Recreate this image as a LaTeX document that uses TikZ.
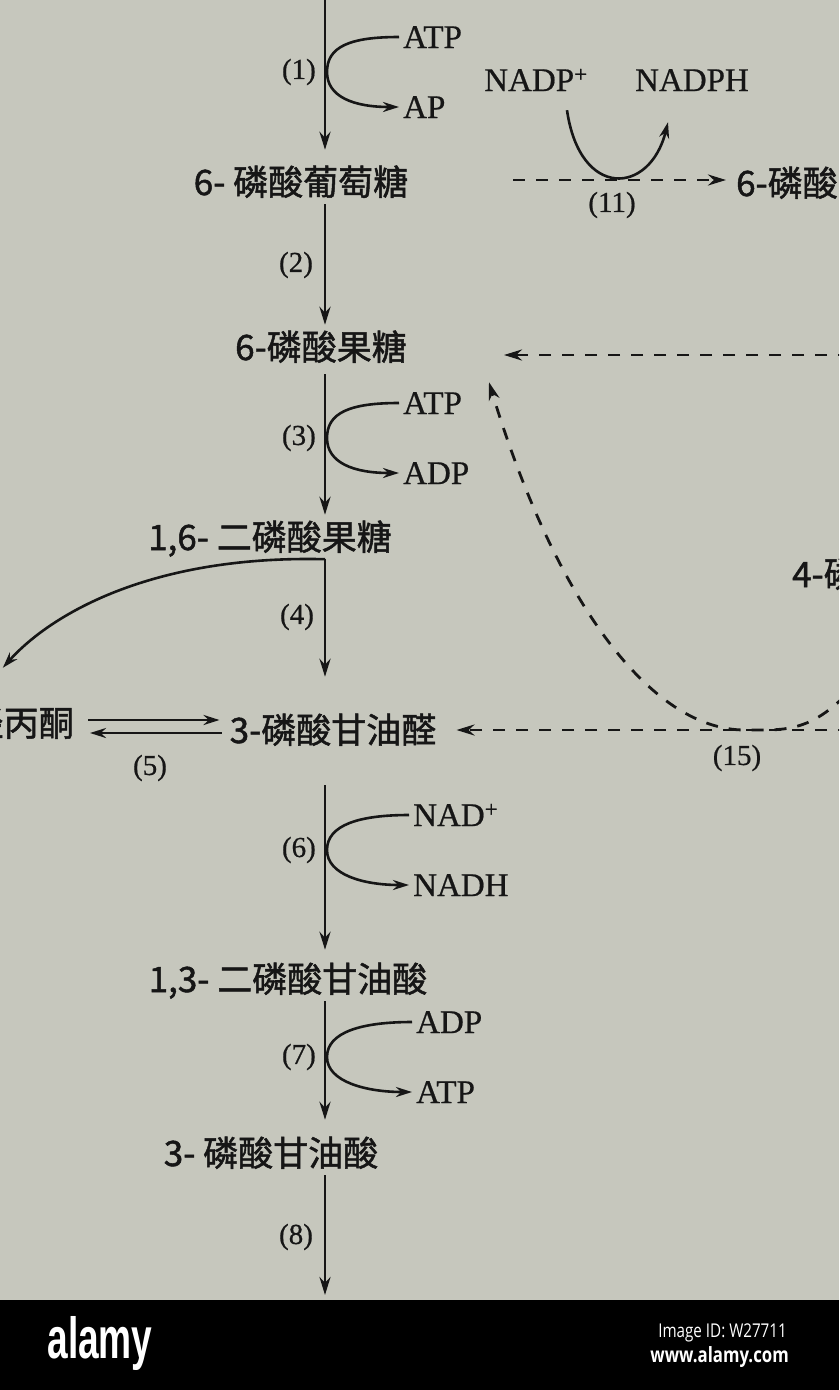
\documentclass[tikz,border=0pt]{standalone}
\usepackage{fontspec}
\setmainfont[FakeBold=0.6]{Liberation Serif}
\setsansfont{Liberation Sans}
\newfontfamily\cjk[FakeBold=1.4]{Noto Sans CJK SC}
\newfontfamily\wmfont{Open Sans}
\usetikzlibrary{calc,positioning,arrows.meta}

\definecolor{paper}{RGB}{198,199,189}
\definecolor{ink}{RGB}{22,22,22}

\tikzset{
	met/.style={font=\cjk\fontsize{35}{35}\selectfont, text=ink, inner sep=0pt, minimum height=44pt, text height=26pt, text depth=0pt},
	cof/.style={font=\fontsize{33}{33}\selectfont, text=ink, inner sep=4pt, text height=22pt, text depth=0pt, anchor=west},
	num/.style={font=\fontsize{29}{29}\selectfont, text=ink, inner sep=0pt},
	flow/.style={ink, line width=2.8pt, -{Stealth[length=18pt,width=11pt]}},
	side/.style={ink, line width=2.6pt, -{Stealth[length=16pt,width=10pt]}},
	other/.style={flow, dash pattern=on 12pt off 11pt},
	band/.style={text=white, inner sep=0pt},
}

\begin{document}
\begin{tikzpicture}[x=1pt,y=-1pt]
	\useasboundingbox (0,0) rectangle (839,1390);
	\clip (0,0) rectangle (839,1390);
	\fill[paper] (0,0) rectangle (839,1300);
	\fill[black] (0,1300) rectangle (839,1390);

	\coordinate (axis) at (325,0);
	\coordinate (top) at (325,-10);
	\coordinate (bottom) at (325,1295);

	\node[met] (g6p) at (301,182) {6- 磷酸葡萄糖};
	\node[met] (f6p) at (321,347) {6-磷酸果糖};
	\node[met] (fbp) at (270,537) {1,6- 二磷酸果糖};
	\node[met] (gap) at (333,730) {3-磷酸甘油醛};
	\node[met,anchor=east] (dhap) at (74,723) {磷酸二羟丙酮};
	\node[met] (bpg) at (288,979) {1,3- 二磷酸甘油酸};
	\node[met] (pg3) at (271,1153) {3- 磷酸甘油酸};
	\node[met,anchor=west] (p6g) at (736,183) {6-磷酸};
	\node[met,anchor=west] (e4p) at (792,574) {4-磷酸赤藓糖};

	\draw[flow, shorten >=10pt] (top) -- (g6p.north -| axis);
	\draw[flow] (g6p.south -| axis) -- (f6p.north -| axis);
	\draw[flow, shorten <=5pt] (f6p.south -| axis) -- (fbp.north -| axis);
	\draw[flow, shorten >=31pt] (fbp.south -| axis) -- (gap.north -| axis);
	\draw[flow, shorten <=33pt, shorten >=7pt] (gap.south -| axis) -- (bpg.north -| axis);
	\draw[flow, shorten >=11pt] (bpg.south -| axis) -- (pg3.north -| axis);
	\draw[flow] (pg3.south -| axis) -- (bottom);

	\foreach \y/\n/\a/\b/\s in {72/1/ATP/AP/0, 438/3/ATP/ADP/0, 850/6/NAD\textsuperscript{+}/NADH/10, 1057/7/ADP/ATP/13}{
		\node[cof] (in\n) at (399+\s,\y-35) {\a};
		\node[cof] (out\n) at (399+\s,\y+35) {\b};
		\node[num,anchor=east] (r\n) at (316,\y) {(\n)};
		\draw[side] (in\n.west) .. controls ($(in\n.west)+(-50,0)$) and (327,\y-25) .. (327,\y)
			.. controls (327,\y+25) and ($(out\n.west)+(-45,0)$) .. (out\n.west);
	}

	\node[num] (r2) at (296,265) {(2)};
	\node[num] (r4) at (297,617) {(4)};
	\node[num] (r5) at (150,768) {(5)};
	\node[num] (r8) at (296,1237) {(8)};
	\node[num] (r11) at (612,205) {(11)};
	\node[num] (r15) at (737,758) {(15)};

	\draw[side] (fbp.south -| axis) .. controls (150,555) and (50,615) .. ($(dhap.north)+(34,-33)$);
	\draw[side, shorten <=14pt, shorten >=10pt] ([yshift=3pt]dhap.east) -- ([yshift=10pt]gap.west);
	\draw[side, shorten <=8pt, shorten >=16pt] ([yshift=-3pt]gap.west) -- ([yshift=-10pt]dhap.east);

	\node[cof,anchor=center] (nadp) at (536,80) {NADP\textsuperscript{+}};
	\node[cof,anchor=center] (nadph) at (692,80) {NADPH};
	\coordinate (from11) at (513,180);
	\draw[other, shorten >=10pt] (from11) -- (p6g.west |- from11);
	\draw[side] ($(nadp.south)+(31,15)$) .. controls (580,200) and (650,195) .. ($(nadph.south)+(-24,27)$);

	\coordinate (fromr) at (850,355);
	\draw[other, shorten >=97pt] (fromr) -- ([yshift=-8pt]f6p.east);
	\coordinate (from15) at (850,730);
	\draw[other, shorten >=20pt] (from15) -- (gap.east);
	\coordinate (fromc) at (875,660);
	\draw[other] (fromc) .. controls (820,735) and (790,730) .. (745,730)
		.. controls (650,730) and (555,600) .. ($(f6p.south east)+(82,13)$);

	\node[band, font=\sffamily\bfseries\fontsize{58}{58}\selectfont] (logo) at (100,1343) {\scalebox{0.64}[1]{alamy}};
	\node[band, font=\wmfont\fontsize{19}{19}\selectfont, anchor=east] (imgid) at (787,1333) {\scalebox{0.8}[1]{Image ID: W27711}};
	\node[band, font=\wmfont\bfseries\fontsize{21}{21}\selectfont, anchor=east] (site) at (789,1357) {\scalebox{0.8}[1]{www.alamy.com}};
\end{tikzpicture}
\end{document}
